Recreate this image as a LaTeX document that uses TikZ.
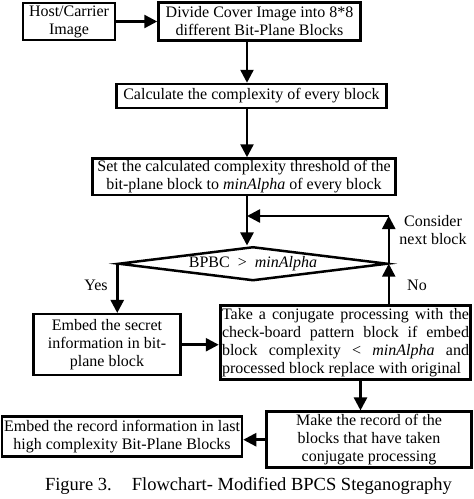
\documentclass[tikz,border=0pt]{standalone}
\usepackage{fontspec}
\setmainfont{Liberation Serif}
\usepackage{tikz}
\usetikzlibrary{shapes.geometric,arrows.meta,positioning,calc}

\begin{document}
\begin{tikzpicture}[
    x=1pt, y=-1pt,
    every node/.style={font=\fontsize{16}{18}\selectfont},
    block/.style={rectangle, draw, line width=2.5pt, inner sep=2pt, align=center},
    decision/.style={diamond, draw, line width=2.5pt, inner sep=0pt, aspect=7.7, minimum width=269pt, minimum height=34pt},
    line/.style={draw, line width=2.5pt, -{Triangle[length=13pt,width=13pt]}}
]
\useasboundingbox (0,0) rectangle (474,499);

% Top row
\node[block, minimum width=92pt, minimum height=37pt] (host) at (69,21.5) {Host/Carrier \\ Image};
\node[block, minimum width=202pt, minimum height=38pt, right=41pt of host] (divide) {Divide Cover Image into 8*8 \\ different Bit-Plane Blocks};

% Complexity
\node[block, minimum width=270pt, minimum height=24pt, below=41pt of divide, xshift=-8pt] (calc) {Calculate the complexity of every block};
\node[block, minimum width=303pt, minimum height=36pt, below=48pt of calc, xshift=-7.5pt] (thresh) {Set the calculated complexity threshold of the \\ bit-plane block to \textit{minAlpha} of every block};

% Decision
\node[decision, below=49pt of thresh, xshift=9pt] (test) {BPBC \ > \ \textit{minAlpha}};
\coordinate (spine) at (247,0);

% Processing
\node[block, line width=3.5pt, text width=247pt, minimum height=74pt, align=justify, inner sep=1.5pt, below=22pt of test, xshift=92.5pt] (conj) {\parfillskip=0pt Take a conjugate processing with the\linebreak check-board pattern block if embed\linebreak block complexity < \textit{minAlpha} and\linebreak processed block replace with original};
\node[block, minimum width=147pt, minimum height=61pt, left=37pt of conj, yshift=-2pt] (embed) {Embed the secret \\ information in bit- \\ plane block};
\node[block, minimum width=205pt, minimum height=56pt, below=29pt of conj, xshift=23.5pt] (record) {Make the record of the \\ blocks that have taken \\ conjugate processing};
\node[block, minimum width=239pt, minimum height=40pt, left=22pt of record, yshift=3pt] (last) {Embed the record information in last \\ high complexity Bit-Plane Blocks};

% Labels
\node (yes) at (96,285) {Yes};
\node (no) at (417,285) {No};
\node[align=center] (next) at (433,230) {Consider \\ next block};
\coordinate (loop) at (test.east |- 0,216);

% Connections
\path [line] (host) -- (divide);
\path [line] (divide.south -| spine) -- (calc.north -| spine);
\path [line] (calc.south -| spine) -- (thresh.north -| spine);
\path [line] (thresh.south -| spine) -- (test.north -| spine);
\path [line] (test.east) -- (loop);
\path [line] (loop) -- (loop -| spine);
\path [line] (conj.north -| test.east) -- (test.east);
\path [line] (test.west) -- (test.west |- embed.north);
\path [line] (embed.east) -- (embed.east -| conj.west);
\path [line] ([xshift=15pt]conj.south) -- ([xshift=15pt]conj.south |- record.north);
\path [line] (record.west) -- (record.west -| last.east);

% Caption
\node[font=\fontsize{18.5}{21}\selectfont] (caption) at (248.5,486) {Figure 3.\hspace{20pt}Flowchart- Modified BPCS Steganography};

\end{tikzpicture}
\end{document}
